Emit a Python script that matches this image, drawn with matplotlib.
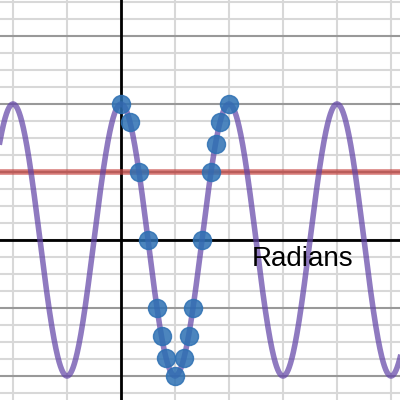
import numpy as np
import matplotlib.pyplot as plt

# Points sur la courbe y = 2cos(x)
pts_x = np.array([0, np.pi/6, np.pi/3, np.pi/2, 2*np.pi/3, 3*np.pi/4, 5*np.pi/6, np.pi,
                  7*np.pi/6, 5*np.pi/4, 4*np.pi/3, 3*np.pi/2, 5*np.pi/3, 7*np.pi/4, 11*np.pi/6, 2*np.pi])
pts_y = 2 * np.cos(pts_x)
amplitude = 2
red_level = 1

x = np.linspace(-8, 17, 2000)
y = amplitude * np.cos(x)

fig = plt.figure(figsize=(4, 4), dpi=100)
ax = fig.add_axes([0, 0, 1, 1])
xmin, xmax = -121 / 17.19, (400 - 121) / 17.19
ymin, ymax = -(400 - 240) / 68.0, 240 / 68.0
ax.set_xlim(xmin, xmax)
ax.set_ylim(ymin, ymax)

# Grille
for gx in np.arange(-3, 6) * np.pi:
    ax.axvline(gx, color='#d8d8d8', lw=1.5, zorder=0)
for gy in np.arange(-3, 4, 0.25):
    major = abs(gy - round(gy)) < 1e-9
    ax.axhline(gy, color='#999999' if major else '#d8d8d8', lw=1.5, zorder=0)
ax.axhline(0, color='black', lw=2, zorder=1)
ax.axvline(0, color='black', lw=2, zorder=1)

ax.axhline(red_level, color='#c74440', lw=4, alpha=0.7, zorder=2)
ax.plot(x, y, color='#6042a6', lw=4, alpha=0.7, zorder=3)
ax.plot(pts_x, pts_y, 'o', color='#2d70b3', ms=13, alpha=0.85, zorder=4)

ax.text(7.6, -0.28, 'Radians', fontsize=20, family='Liberation Sans',
        va='center', ha='left', zorder=5)
ax.set_axis_off()
fig.savefig('out.png', dpi=100)
